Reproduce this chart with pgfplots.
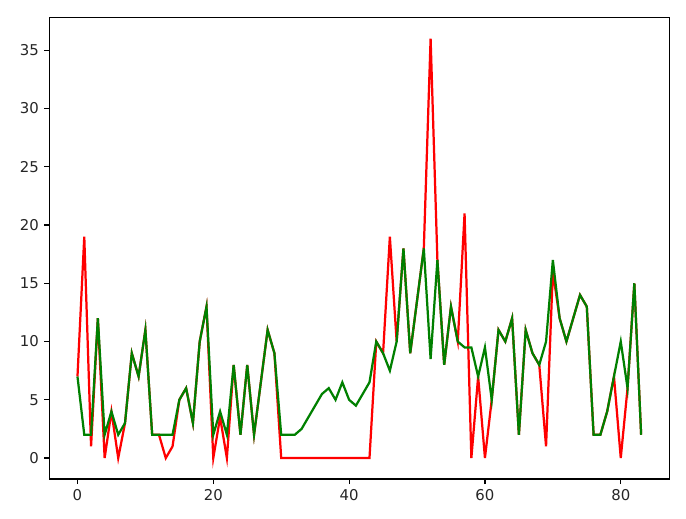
\documentclass[border=0pt]{standalone}
\usepackage{fontspec}
\setmainfont{DejaVu Sans}
\usepackage{pgfplots}
\pgfplotsset{compat=1.18}
\usetikzlibrary{calc}

\definecolor{mplred}{RGB}{255,0,0}
\definecolor{mplgreen}{RGB}{0,128,0}

\begin{document}
\begin{tikzpicture}[x=0.6717pt,y=0.6717pt]
	% frame is 620 x 461.3 px on a 686 x 518 px page
	\begin{axis}[
		scale only axis,
		width=416.5pt, height=309.9pt,
		xmin=-4.15, xmax=87.15,
		ymin=-1.8, ymax=37.8,
		xtick={0,20,40,60,80},
		ytick={0,5,10,15,20,25,30,35},
		tick align=outside,
		major tick length=3.5pt,
		tick style={black, line width=0.8pt},
		xtick pos=bottom, ytick pos=left,
		axis line style={line width=0.8pt},
		/pgf/number format/assume math mode=true,
		tick label style={font=\fontsize{10}{12}\selectfont, text=black!85},
		]
		\coordinate (bl) at (rel axis cs:0,0);
		\coordinate (tr) at (rel axis cs:1,1);
		
		% red series
		\addplot[mplred, line width=1.5pt] coordinates {
			(0,7) (1,19) (2,1) (3,12) (4,0) (5,4) (6,0) (7,3) (8,9) (9,7)
			(10,11) (11,2) (12,2) (13,0) (14,1) (15,5) (16,6) (17,3) (18,10) (19,13)
			(20,0) (21,3.5) (22,0) (23,8) (24,2) (25,8) (26,2) (27,6.5) (28,11) (29,9)
			(30,0) (31,0) (32,0) (33,0) (34,0) (35,0) (36,0) (37,0) (38,0) (39,0)
			(40,0) (41,0) (42,0) (43,0) (44,10) (45,9) (46,19) (47,10) (48,18) (49,9)
			(50,13.5) (51,18) (52,36) (53,17) (54,8) (55,13) (56,10) (57,21) (58,0) (59,7)
			(60,0) (61,5) (62,11) (63,10) (64,12) (65,2) (66,11) (67,9) (68,8) (69,1)
			(70,16) (71,12) (72,10) (73,12) (74,14) (75,13) (76,2) (77,2) (78,4) (79,7)
			(80,0) (81,6) (82,15) (83,2)
		};
		
		% green series
		\addplot[mplgreen, line width=1.5pt] coordinates {
			(0,7) (1,2) (2,2) (3,12) (4,2) (5,4) (6,2) (7,3) (8,9) (9,7)
			(10,11) (11,2) (12,2) (13,2) (14,2) (15,5) (16,6) (17,3) (18,10) (19,13)
			(20,2) (21,4) (22,2) (23,8) (24,2) (25,8) (26,2) (27,6.5) (28,11) (29,9)
			(30,2) (31,2) (32,2) (33,2.5) (34,3.5) (35,4.5) (36,5.5) (37,6) (38,5) (39,6.5)
			(40,5) (41,4.5) (42,5.5) (43,6.5) (44,10) (45,9) (46,7.5) (47,10) (48,18) (49,9)
			(50,13.5) (51,18) (52,8.5) (53,17) (54,8) (55,13) (56,10) (57,9.5) (58,9.5) (59,7)
			(60,9.5) (61,5) (62,11) (63,10) (64,12) (65,2) (66,11) (67,9) (68,8) (69,10)
			(70,17) (71,12) (72,10) (73,12) (74,14) (75,13) (76,2) (77,2) (78,4) (79,7)
			(80,10) (81,6) (82,15) (83,2)
		};
		
	\end{axis}
	\pgfresetboundingbox
	\path[use as bounding box] ($(bl)+(-49.3,-39)$) rectangle ($(tr)+(16.7,17.7)$);
\end{tikzpicture}
\end{document}
